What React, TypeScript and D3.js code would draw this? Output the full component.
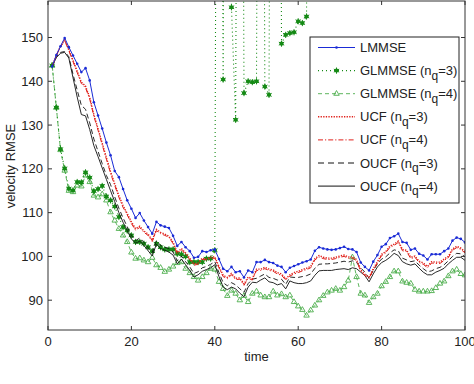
import React from 'react';
import * as d3 from 'd3';

const lmmse = [
  143.4,146,148,149.9,147.8,145.9,144,142.1,143,140.2,
  135.2,132.2,129.2,126,123.1,119.5,118.1,115.4,112.8,110.9,
  108.8,109.9,108.2,106.7,105.2,107.9,107.1,106.8,106.5,104.7,
  102.4,103.3,102.1,101.2,99.7,99.9,101.2,101,101.4,101.6,
  99.4,97.2,96.6,97.6,96.4,96.6,95.2,96.8,96.4,98.7,
  98.7,99.2,98.7,98.5,97.9,97.6,96.4,97.4,97.8,98.2,
  98.6,98.9,99.3,101.3,102.1,101.8,101.6,101.5,101.6,101.9,
  102.2,101.7,101.6,101,98.6,97.6,96.8,98.8,100.3,102.2,
  102.8,104.2,104.6,105.2,103.3,103.1,101.5,101.8,100.6,100.2,
  99.3,100.5,100.5,100.5,101.2,101.8,103.6,104.3,104,103.2,
];

const glmmse3 = [
  143.6,134,124.5,120.1,115.5,115.1,117,116.9,119.2,118,
  114.9,115.4,116.1,113.7,112.8,111.4,109,106.7,105.9,104.8,
  103.3,103.3,102.9,102.1,101.2,102.9,102.1,101.6,101.6,101.6,
  100.6,100.5,100,98.7,98.7,98.7,98.7,99.5,99.5,101.4,
  400,140.4,400,156.9,131.2,400,137.3,140,139.8,140,
  400,138.8,136.9,400,400,148.6,150.6,151,151.2,153.7,
  153.3,154.8,400,
];

const glmmse4 = [
  143.6,134,124.3,119.6,115,114.7,116.2,116,118.5,117,
  113.9,113.5,114.2,112.8,110.1,108.2,106.3,104.8,103.3,100.9,
  99.5,99.6,99.1,98.7,99.7,98,97.4,96.5,97,97.7,
  98.5,98.7,97.2,96.2,95.3,94.5,95.3,96.2,97.2,97,
  94.2,92.6,91,92.2,91.5,90,91,89.6,91.5,92,
  91.1,90.7,90.7,92,91.1,91.4,90.7,91.1,89.6,88.6,
  87.8,86.5,87.7,88.8,90,91,91.8,92.2,92.6,92.2,
  93,94.5,99.8,95.3,91.5,91.1,89.4,90.7,91.5,93.2,
  94.2,95.3,96.6,96.6,94.3,94,93.8,92.4,92,92,
  92,92.1,92.8,93.8,94.3,95.5,96.6,97,96,95.7,
];

const ucf3 = [
  143.4,145.9,148,149.5,147.2,144.8,142.3,139.8,138.9,136.3,
  132.4,129.2,125.9,122.6,119.4,116.6,113.9,111.6,109.8,107.9,
  106.3,106.9,105.8,105.1,103.7,106.2,105.5,105.1,104.6,103.2,
  100.9,101.8,100.8,99.6,98.3,98.5,99.6,99.4,99.8,99.9,
  97.7,95.7,95.2,96.1,95,95.1,93.7,95.3,94.9,97.1,
  97.1,97.5,97.1,96.9,96.3,96,94.9,95.8,96.3,96.6,
  97,97.3,97.7,99.5,100.2,99.8,99.6,99.6,99.8,100.1,
  100.3,99.9,99.9,99.3,96.9,95.9,95.3,97.2,98.8,100.5,
  101.1,102.4,102.8,103.5,101.6,101.4,99.8,100.1,98.9,98.5,
  97.7,98.8,98.7,98.7,99.4,100,101.7,102.3,101.9,101.1,
];

const ucf4 = [
  143.4,145.8,147.8,149.3,147,144.5,142,139.5,138.5,136,
  132,128.8,125.5,122.2,119,116.2,113.5,111.2,109.5,107.5,
  106,106.6,105.5,104.8,103.4,105.9,105.2,104.8,104.4,102.9,
  100.6,101.5,100.5,99.3,98,98.2,99.3,99.2,99.5,99.6,
  97.4,95.4,94.9,95.8,94.7,94.8,93.4,95,94.6,96.8,
  96.8,97.2,96.8,96.6,96,95.7,94.6,95.5,96,96.3,
  96.7,97,97.4,99.2,99.9,99.5,99.3,99.3,99.5,99.8,
  100,99.6,99.6,99,96.6,95.6,95,96.9,98.5,100.2,
  100.8,102.1,102.5,103.2,101.3,101.1,99.5,99.8,98.6,98.2,
  97.4,98.5,98.4,98.4,99.1,99.7,101.4,102,101.6,100.8,
];

const oucf3 = [
  143.4,145.6,146.6,146.8,145.6,141.6,138,134.5,133.6,130.5,
  126.8,124,121.2,118.5,116.4,113.6,111,108.8,106.8,104.8,
  103.6,104.2,103.2,102,100.9,103.6,102.5,102.1,101.8,101,
  99,100.1,98.8,97.6,96.1,96.5,97.4,97.7,98.2,98.8,
  96.3,94,93.3,94,93.5,92.6,91.8,93.8,94.8,95,
  95.5,96,95.2,95,94.6,94.8,93.6,95.3,95.2,95.2,
  95.4,95.6,96,97.3,98.2,98.3,98.3,98.4,98.5,98.7,
  98.9,98.7,99,98.6,97.4,96.4,95,96.8,98.3,99.4,
  99.9,100.8,101.5,101.3,99.6,99.2,98.8,99,98,97.2,
  96.5,96.7,97.2,97.5,98.1,99,100,100.7,100.6,99.9,
];

const oucf4 = [
  143.4,145.4,146.4,146.6,145.3,140.8,136.4,132.4,132.1,129,
  125.3,122.8,120.2,117.6,115,112.5,110,107.8,105.9,104,
  103,103.5,102.5,101.3,100.1,102.8,101.8,101.4,101,100.3,
  98.3,99.4,98.1,96.8,95.3,95.8,96.6,97,97.4,98.1,
  95.4,93,92.4,93,92.6,91.6,90.8,93,94.1,94,
  94.6,95.1,94.2,94,93.5,93.8,92.6,94.4,94,93.8,
  93.8,94,94.4,95.7,96.7,96.8,96.8,96.8,97,97.1,
  97.2,97,97.4,97.2,96.4,95.6,94.2,96,97.6,98.6,
  99.1,99.8,100.7,100.2,98.8,98.3,98,98.3,97.3,96.4,
  95.8,95.8,96.4,96.8,97.3,98.3,99.1,99.8,99.8,99.1,
];

const xTicks = [0, 20, 40, 60, 80, 100];
const yTicks = [90, 100, 110, 120, 130, 140, 150];

const legendNames = ['LMMSE', 'GLMMSE', 'GLMMSE', 'UCF', 'UCF', 'OUCF', 'OUCF'];
const legendNq = ['', '3', '4', '3', '4', '3', '4'];

const BLUE = '#1a2bd6';
const GREEN3 = '#158a15';
const GREEN4 = '#4cae4c';
const RED = '#e0201a';
const BLACK = '#111';

const FONT = '"Liberation Sans", Arial, Helvetica, sans-serif';

export default function App() {
  const W = 474, H = 384;
  const L = 48, R = 465, T = 1, B = 330;
  const x = d3.scaleLinear().domain([0, 100]).range([L, R]);
  const y = d3.scaleLinear().domain([90, 150]).range([300.2, 37.5]);

  const mk = (arr: (number | null)[]) =>
    arr.map((v, i) => ({ t: i + 1, v }));
  const line = d3
    .line<{ t: number; v: number | null }>()
    .defined((d) => d.v != null)
    .x((d) => x(d.t))
    .y((d) => y(d.v as number));

  const series = [
    { key: 'g4', data: mk(glmmse4), color: GREEN4, dash: '4,3', width: 0.9, marker: 'tri' },
    { key: 'g3', data: mk(glmmse3), color: GREEN3, dash: '1,3', width: 1.1, marker: 'star' },
    { key: 'o4', data: mk(oucf4), color: BLACK, dash: null, width: 0.9, marker: null },
    { key: 'o3', data: mk(oucf3), color: BLACK, dash: '5,3', width: 0.9, marker: null },
    { key: 'u4', data: mk(ucf4), color: RED, dash: '5,2,1.2,2', width: 1, marker: null },
    { key: 'u3', data: mk(ucf3), color: RED, dash: '1.3,1.3', width: 1.4, marker: null },
    { key: 'lm', data: mk(lmmse), color: BLUE, dash: null, width: 1, marker: 'dot' },
  ];

  const triPath = d3.symbol(d3.symbolTriangle, 13)();
  const astPath = d3.symbol(d3.symbolAsterisk, 26)();

  const marker = (type: string | null, cx: number, cy: number, color: string, k: string) => {
    if (type === 'dot') return <circle key={k} cx={cx} cy={cy} r={1.3} fill={color} />;
    if (type === 'tri')
      return (
        <path key={k} d={triPath as string} transform={`translate(${cx},${cy})`} fill="none" stroke={color} strokeWidth={0.9} />
      );
    if (type === 'star')
      return (
        <g key={k} transform={`translate(${cx},${cy})`}>
          <circle r={2.1} fill={color} />
          <path d={astPath as string} stroke={color} strokeWidth={1} fill="none" />
        </g>
      );
    return null;
  };

  const legendStyles = [
    { color: BLUE, dash: null, width: 1, marker: 'dot' },
    { color: GREEN3, dash: '1,3', width: 1.1, marker: 'star' },
    { color: GREEN4, dash: '4,3', width: 0.9, marker: 'tri' },
    { color: RED, dash: '1.3,1.3', width: 1.6, marker: null },
    { color: RED, dash: '5,2,1.2,2', width: 1, marker: null },
    { color: BLACK, dash: '6,4', width: 1, marker: null },
    { color: BLACK, dash: null, width: 1, marker: null },
  ];
  const legX = 310, legY = 37, legW = 149, legH = 166;
  const rowY = (i: number) => 47.5 + i * 23.1;

  return (
    <svg width={W} height={H} style={{ position: 'absolute', left: 0, top: 0, background: '#fff' }} fontFamily={FONT}>
      <defs>
        <clipPath id="plot">
          <rect x={L} y={T} width={R - L} height={B - T} />
        </clipPath>
      </defs>
      <rect x={0} y={0} width={W} height={H} fill="#fff" />
      <g clipPath="url(#plot)">
        {series.map((s) => (
          <g key={s.key}>
            <path
              d={line(s.data) as string}
              fill="none"
              stroke={s.color}
              strokeWidth={s.width}
              strokeDasharray={s.dash ?? undefined}
            />
            {s.marker &&
              s.data
                .filter((d) => d.v != null)
                .map((d, i) => marker(s.marker, x(d.t), y(d.v as number), s.color, `${s.key}${i}`))}
          </g>
        ))}
      </g>
      {/* frame */}
      <rect x={L} y={T} width={R - L} height={B - T} fill="none" stroke="#333" strokeWidth={1} />
      {/* x ticks */}
      {xTicks.map((t) => (
        <g key={`xt${t}`}>
          <line x1={x(t)} x2={x(t)} y1={B} y2={B - 4} stroke="#333" />
          <line x1={x(t)} x2={x(t)} y1={T} y2={T + 4} stroke="#333" />
          <text x={x(t)} y={346} fontSize={13} textAnchor="middle" fill="#222">
            {t}
          </text>
        </g>
      ))}
      {yTicks.map((t) => (
        <g key={`yt${t}`}>
          <line x1={L} x2={L + 4} y1={y(t)} y2={y(t)} stroke="#333" />
          <line x1={R} x2={R - 4} y1={y(t)} y2={y(t)} stroke="#333" />
          <text x={43} y={y(t) + 4.6} fontSize={13} textAnchor="end" fill="#222">
            {t}
          </text>
        </g>
      ))}
      <text x={(L + R) / 2} y={361} fontSize={13} textAnchor="middle" fill="#222">
        time
      </text>
      <text
        transform={`translate(15,${166}) rotate(-90)`}
        fontSize={13}
        textAnchor="middle"
        fill="#222"
      >
        velocity RMSE
      </text>
      {/* legend */}
      <rect x={legX} y={legY} width={legW} height={legH} fill="#fff" stroke="#222" strokeWidth={1} />
      {legendNames.map((name, i) => {
        const st = legendStyles[i];
        const ly = rowY(i);
        return (
          <g key={`lg${i}`}>
            <line
              x1={318}
              x2={355}
              y1={ly}
              y2={ly}
              stroke={st.color}
              strokeWidth={st.width}
              strokeDasharray={st.dash ?? undefined}
            />
            {marker(st.marker, 336.5, ly, st.color, `lm${i}`)}
            <text x={360} y={ly + 4.5} fontSize={13} fill="#222">
              {legendNq[i] ? (
                <>
                  {name} (n
                  <tspan dy={4.5} fontSize={12}>q</tspan>
                  <tspan dy={-4.5}>={legendNq[i]})</tspan>
                </>
              ) : (
                name
              )}
            </text>
          </g>
        );
      })}
    </svg>
  );
}
